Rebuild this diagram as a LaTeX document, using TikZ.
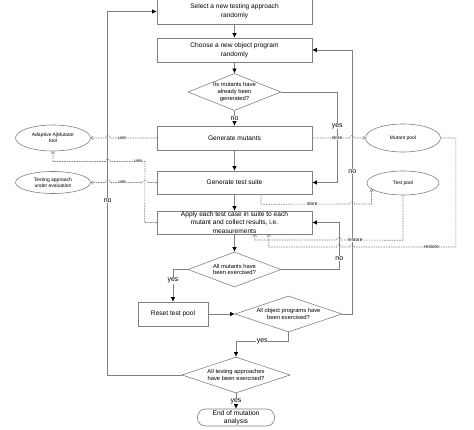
\documentclass[tikz,border=0pt]{standalone}
\usepackage{fontspec}
\setmainfont{Liberation Sans}
\usetikzlibrary{shapes.geometric,arrows.meta,calc}
\definecolor{colorln}{HTML}{808080}
\tikzset{
  procbox/.style={draw=colorln, minimum width=155pt, minimum height=24pt, inner sep=1pt, align=center, font=\fontsize{6.6}{8.8}\selectfont},
  decbox/.style={diamond, draw=colorln, aspect=3, inner sep=0pt, align=center, font=\fontsize{5.8}{6.8}\selectfont},
  poolell/.style={ellipse, draw=colorln, minimum width=75pt, minimum height=26pt, inner sep=0pt, align=center, font=\fontsize{5}{6}\selectfont},
  endbox/.style={draw=colorln, rounded corners=8pt, minimum width=77pt, minimum height=17pt, inner sep=0pt, align=center, font=\fontsize{6.7}{8}\selectfont},
  edgeflow/.style={colorln, -{Latex[length=4.5pt,width=4.5pt,color=black]}},
  edgeuse/.style={colorln, dash pattern=on 1.5pt off 1pt, -{Straight Barb[length=2pt,width=4pt]}},
  lblyn/.style={fill=white, text=black, inner sep=0.5pt, font=\fontsize{7}{8}\selectfont},
  lbluse/.style={fill=white, text=black, inner sep=0.5pt, font=\fontsize{4.8}{5.5}\selectfont}
}

\begin{document}
\begin{tikzpicture}[x=1pt, y=-1pt, line width=0.6pt]
\useasboundingbox (0,0) rectangle (474,430);
% main flow
\node[procbox, minimum height=25pt] (sel) at (234.5,11.5) {Select a new testing approach\\randomly};
\node[procbox] (cho) at (234.5,50) {Choose a new object program\\randomly};
\node[decbox, aspect=2.5, minimum width=93pt, minimum height=37pt] (hasmut) at (234.5,92) {Its mutants have\\already been\\generated?};
\node[procbox] (genmut) at (234.5,138) {Generate mutants};
\node[procbox, minimum height=23pt] (gents) at (234.5,182.5) {Generate test suite};
\node[procbox, minimum height=23pt, inner sep=0pt] (apply) at (234.5,222.5) {Apply each test case in suite to each\\mutant and collect results, i.e.\\measurements};
\node[decbox, minimum width=93pt, minimum height=35pt] (allmut) at (234.5,269.5) {All mutants have\\been exercised?};
\node[procbox, minimum width=70pt] (reset) at (173,314) {Reset test pool};
\node[decbox, minimum width=107pt, minimum height=36pt] (allprog) at (288.5,314) {All object programs have\\been exercised?};
\node[decbox, minimum width=108pt, minimum height=36pt] (allappr) at (236,375) {All testing approaches\\have been exercised?};
\node[endbox] (fin) at (236,417.5) {End of mutation\\analysis};
% tools and pools
\node[poolell] (ajm) at (53,138) {Adaptive AjMutator\\tool};
\node[poolell, minimum height=22pt] (tae) at (53,182.5) {Testing approach\\under evaluation};
\node[poolell, minimum height=28pt] (mpool) at (403,138) {Mutant pool};
\node[poolell, minimum width=72pt, minimum height=24pt] (tpool) at (403,183) {Test pool};

\draw[edgeflow] (sel) -- (cho);
\draw[edgeflow] (cho) -- (hasmut);
\draw[edgeflow] (hasmut) -- node[lblyn]{no} (genmut);
\draw[edgeflow] (genmut) -- (gents);
\draw[edgeflow] (gents) -- (apply);
\draw[edgeflow] (apply) -- (allmut);
\draw[edgeflow] (allmut.west) -| node[lblyn, pos=0.67]{yes} (reset.north);
\draw[edgeflow] (allmut.east) -- ++(58,0) |- node[lblyn, pos=0.12]{no} (apply.east);
\draw[edgeflow] (reset) -- (allprog);
\draw[edgeflow] (allprog.east) -- ++(10,0) |- node[lblyn, pos=0.27]{no} (cho.east);
\draw[edgeflow] (hasmut.east) -- ++(56,0) |- node[lblyn, pos=0.19]{yes} (gents.east);
\draw[edgeflow] (allprog.south) -- ++(0,9) -| node[lblyn, pos=0.25]{yes} (allappr.north);
\draw[edgeflow] (allappr.west) -- ++(-74,0) |- node[lblyn, pos=0.24]{no} (sel.west);
\draw[edgeflow] (allappr) -- node[lblyn]{yes} (fin);

% dashed use/store/restore, with hops over crossings
\draw[edgeuse] (genmut.west) -- node[lbluse, pos=0.75]{use} (110.5,138) arc[start angle=0, end angle=180, radius=2.5pt] -- (ajm.east);
\draw[edgeuse] (gents.west) -- (147.5,182.5) arc[start angle=0, end angle=180, radius=2.5pt] -- node[lbluse, pos=0.64]{use} (110.5,182.5) arc[start angle=0, end angle=180, radius=2.5pt] -- (tae.east);
\draw[edgeuse] (apply.west) -- ++(-12,0) -- (145,161.5) -- node[lbluse, pos=0.2]{use} (110.5,161.5) arc[start angle=0, end angle=180, radius=2.5pt] -| (ajm.south);
\draw[edgeuse] (genmut.east) -- node[lbluse, pos=0.66]{store} (349.5,138) arc[start angle=180, end angle=0, radius=2.5pt] -- (mpool.west);
\draw[edgeuse] ($(gents.south west)!0.67!(gents.south east)$) -- ++(0,10) -- node[lbluse, pos=0.58]{store} (349.5,204) arc[start angle=180, end angle=0, radius=2.5pt] -| (tpool.-169);
\draw[edgeuse] (tpool.south) -- ++(0,45) -- node[lbluse, pos=0.78]{restore} (341.5,240) arc[start angle=0, end angle=180, radius=2.5pt] -| ($(apply.south west)!0.63!(apply.south east)$);
\draw[edgeuse] (mpool.east) -- ++(15,0) |- node[lbluse, pos=0.62]{restore} (354.5,247) arc[start angle=0, end angle=180, radius=2.5pt] -- (341.5,247) arc[start angle=0, end angle=180, radius=2.5pt] -| ($(apply.south west)!0.72!(apply.south east)$);
\end{tikzpicture}
\end{document}
